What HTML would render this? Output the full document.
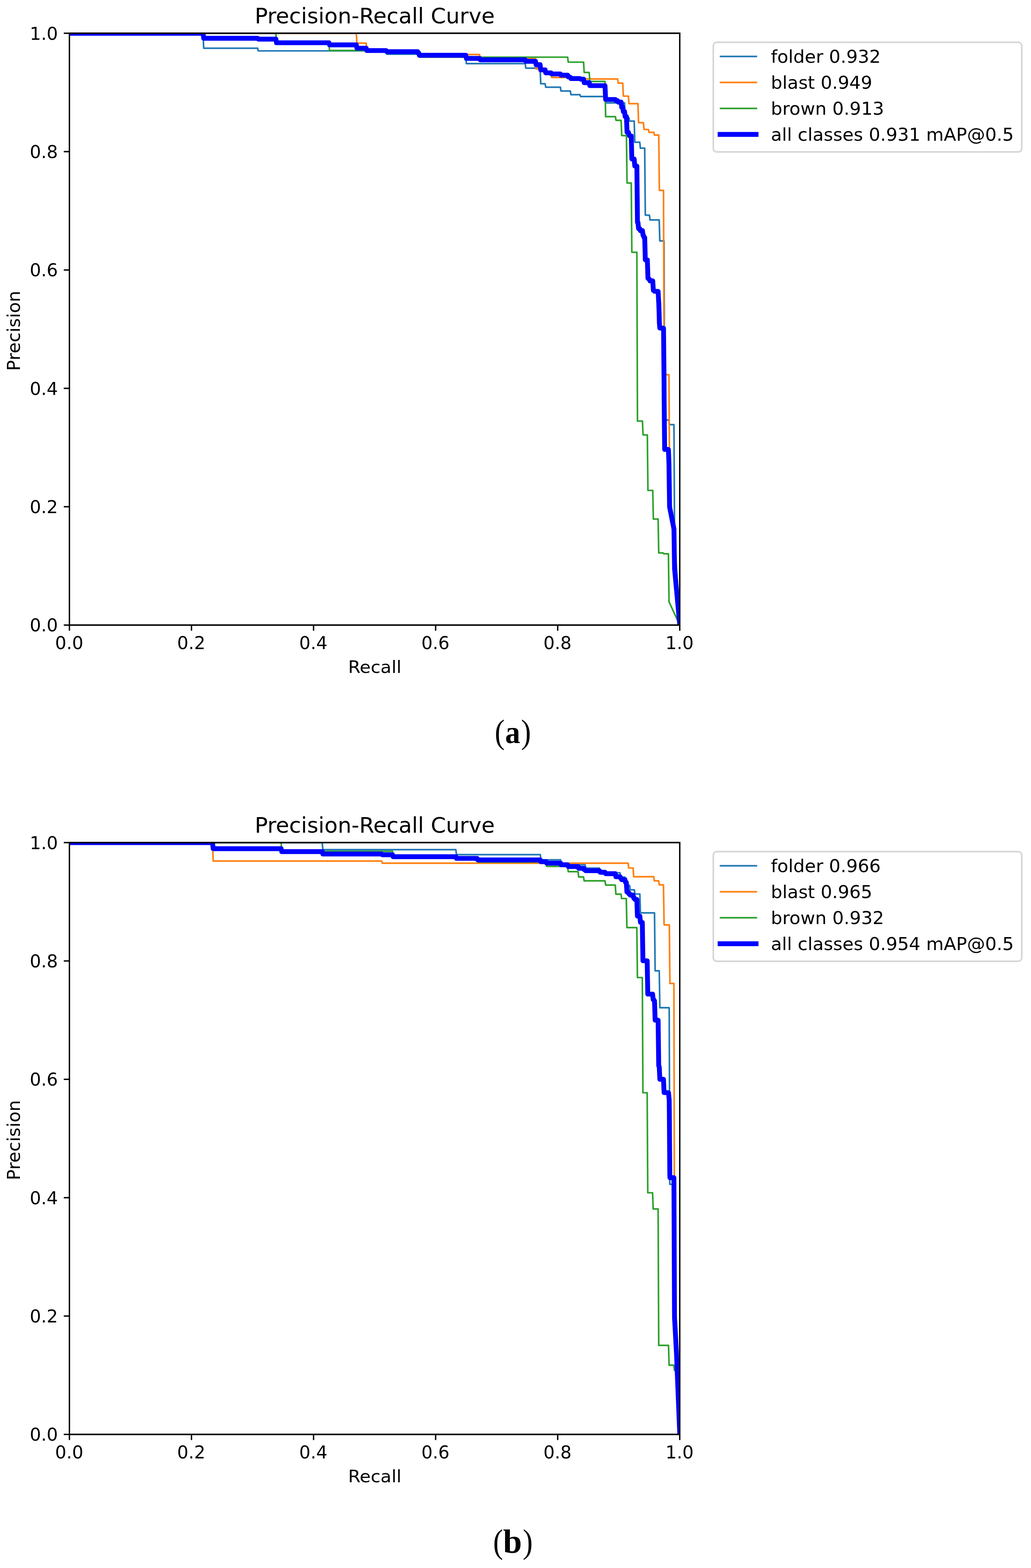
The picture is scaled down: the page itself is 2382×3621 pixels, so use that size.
<!DOCTYPE html>
<html lang="en"><head><meta charset="utf-8"><title>Precision-Recall Curve</title>
<style>html,body,main,figure{margin:0;padding:0;background:#fff}main,figure{display:block}body{width:2382px;height:3621px;overflow:hidden}svg{display:block}svg text{font-family:"DejaVu Sans","Liberation Sans",sans-serif}svg .cap text{font-family:"Liberation Serif","DejaVu Serif",serif}</style>
</head><body>
<main><figure>
<svg role="img" aria-label="Precision-Recall curves: (a) all classes 0.931 mAP@0.5, (b) all classes 0.954 mAP@0.5" width="2382" height="3621" viewBox="0 0 2382 3621">
<rect width="2382" height="3621" fill="#fff"/>
<defs>
<clipPath id="clip1"><rect x="160.4" y="76.8" width="1410.1" height="1366.7"/></clipPath>
<clipPath id="clip2"><rect x="160.4" y="1945.8" width="1410.1" height="1366.7"/></clipPath>
</defs>
<g>
<g clip-path="url(#clip1)" fill="none" stroke-linejoin="round" stroke-linecap="square">
<path d="M160.4 76.8 L469.2 76.8 L470.6 111.4 L595.2 111.4 L596.6 117.5 L892.2 117.5 L893.6 125.1 L1076.1 125.1 L1077.5 146.8 L1213.4 146.8 L1214.8 157.3 L1247.9 157.3 L1249.3 193.4 L1259.4 193.4 L1260.8 201.4 L1294.7 201.4 L1296.1 210.2 L1317.7 210.2 L1319.1 218.6 L1339.9 218.6 L1341.3 222.8 L1397.8 222.8 L1399.2 237.7 L1442.9 237.7 L1444.3 272 L1453.3 272 L1454.7 279.6 L1465.2 279.6 L1466.6 328.4 L1478.1 328.4 L1479.5 342.2 L1489.5 342.2 L1490.9 496.8 L1500.4 496.8 L1501.8 507.9 L1523 507.9 L1524.4 556.4 L1534.2 556.4 L1535.6 969.8 L1545.4 969.8 L1546.8 980.7 L1557.1 980.7 L1558.5 1235 L1570.5 1443.5" stroke="#1f77b4" stroke-width="3.7"/>
<path d="M160.4 76.8 L823.2 76.8 L824.6 99.6 L846 99.6 L847.4 116 L965 116 L966.4 125.9 L1108 125.9 L1109.4 135.3 L1237.2 135.3 L1238.6 158.9 L1259.4 158.9 L1260.8 171.3 L1273.2 171.3 L1274.6 178.9 L1315.6 178.9 L1317 182.3 L1426.9 182.3 L1428.3 192.2 L1438.8 192.2 L1440.2 222 L1451.8 222 L1453.2 239.3 L1473.9 239.3 L1475.3 283.3 L1486.6 283.3 L1488 299 L1498 299 L1499.4 305.6 L1510.7 305.6 L1512.1 311.8 L1522 311.8 L1523.4 439.6 L1533 439.6 L1534.4 865.3 L1545.6 865.3 L1547 1139 L1570.5 1443.5" stroke="#ff7f0e" stroke-width="3.7"/>
<path d="M160.4 76.8 L637.4 76.8 L638.8 102 L760 102 L761.4 116.7 L967.5 116.7 L968.9 132 L1311.5 132 L1312.9 143.5 L1348.3 143.5 L1349.7 167.3 L1361.3 167.3 L1362.7 188.2 L1397.8 188.2 L1399.2 269.3 L1421.8 269.3 L1423.2 277.8 L1435 277.8 L1436.4 313.1 L1447.3 313.1 L1448.7 422.7 L1458.4 422.7 L1459.8 582.6 L1471.4 582.6 L1472.8 972.4 L1484.3 972.4 L1485.7 1004.3 L1495.6 1004.3 L1497 1132.5 L1508.1 1132.5 L1509.5 1198.6 L1520.5 1198.6 L1521.9 1276.8 L1531.8 1276.8 L1533.2 1278.8 L1544.3 1278.8 L1545.7 1389.8 L1570.5 1443.5" stroke="#2ca02c" stroke-width="3.7"/>
<path d="M160.4 76.8 L469.2 76.8 L470.6 88.33 L595.2 88.33 L596.6 90.37 L637.4 90.37 L638.8 98.77 L760 98.77 L761.4 103.67 L823.2 103.67 L824.6 111.27 L846 111.27 L847.4 116.73 L892.2 116.73 L893.6 119.27 L965 119.27 L966.4 122.57 L967.5 122.57 L968.9 127.67 L1076.1 127.67 L1077.5 134.9 L1108 134.9 L1109.4 138.03 L1213.4 138.03 L1214.8 141.53 L1237.2 141.53 L1238.6 149.4 L1247.9 149.4 L1249.3 161.43 L1259.4 161.43 L1260.8 168.23 L1273.2 168.23 L1274.6 170.77 L1294.7 170.77 L1296.1 173.7 L1311.5 173.7 L1312.9 177.53 L1315.6 177.53 L1317 178.67 L1317.7 178.67 L1319.1 181.47 L1339.9 181.47 L1341.3 182.87 L1348.3 182.87 L1349.7 190.8 L1361.3 190.8 L1362.7 197.77 L1397.8 197.77 L1399.2 229.77 L1421.8 229.77 L1423.2 232.6 L1426.9 232.6 L1428.3 235.9 L1435 235.9 L1436.4 247.67 L1438.8 247.67 L1440.2 257.6 L1442.9 257.6 L1444.3 269.03 L1447.3 269.03 L1448.7 305.57 L1451.8 305.57 L1453.2 311.33 L1453.3 311.33 L1454.7 313.87 L1458.4 313.87 L1459.8 367.17 L1465.2 367.17 L1466.6 383.43 L1471.4 383.43 L1472.8 513.37 L1473.9 513.37 L1475.3 528.03 L1478.1 528.03 L1479.5 532.63 L1484.3 532.63 L1485.7 543.27 L1486.6 543.27 L1488 548.5 L1489.5 548.5 L1490.9 600.03 L1495.6 600.03 L1497 642.77 L1498 642.77 L1499.4 644.97 L1500.4 644.97 L1501.8 648.67 L1508.1 648.67 L1509.5 670.7 L1510.7 670.7 L1512.1 672.77 L1520.5 672.77 L1521.9 698.83 L1522 698.83 L1523 729.26 L1523.4 746.05 L1524.4 757.6 L1531.8 757.6 L1533 758.17 L1533.2 778.54 L1534.2 879.9 L1534.4 919.85 L1535.6 1037.97 L1544.3 1037.97 L1545.4 1067.04 L1545.6 1072.84 L1545.7 1082.26 L1546.8 1157.59 L1547 1170.77 L1557.1 1221.68 L1558.5 1313.51 L1570.5 1443.5" stroke="#0000ff" stroke-width="11.2"/>
</g>
<g stroke="#000" stroke-width="3.2" fill="none">
<line x1="160.4" y1="1443.5" x2="160.4" y2="1456.5"/>
<line x1="147.4" y1="1443.5" x2="160.4" y2="1443.5"/>
<line x1="442.42" y1="1443.5" x2="442.42" y2="1456.5"/>
<line x1="147.4" y1="1170.16" x2="160.4" y2="1170.16"/>
<line x1="724.44" y1="1443.5" x2="724.44" y2="1456.5"/>
<line x1="147.4" y1="896.82" x2="160.4" y2="896.82"/>
<line x1="1006.46" y1="1443.5" x2="1006.46" y2="1456.5"/>
<line x1="147.4" y1="623.48" x2="160.4" y2="623.48"/>
<line x1="1288.48" y1="1443.5" x2="1288.48" y2="1456.5"/>
<line x1="147.4" y1="350.14" x2="160.4" y2="350.14"/>
<line x1="1570.5" y1="1443.5" x2="1570.5" y2="1456.5"/>
<line x1="147.4" y1="76.8" x2="160.4" y2="76.8"/>
<path d="M160.4 75.1V1445.2M1570.5 75.1V1445.2"/>
<path d="M160.4 76.8H1570.5M160.4 1443.5H1570.5" stroke-width="3.4"/>
</g>
<g font-size="40.5" fill="#000">
<text transform="translate(159.9 1499) scale(1.012 1)" text-anchor="middle">0.0</text>
<text transform="translate(133.8 1458.3) scale(1.012 1)" text-anchor="end">0.0</text>
<text transform="translate(441.92 1499) scale(1.012 1)" text-anchor="middle">0.2</text>
<text transform="translate(133.8 1184.96) scale(1.012 1)" text-anchor="end">0.2</text>
<text transform="translate(723.94 1499) scale(1.012 1)" text-anchor="middle">0.4</text>
<text transform="translate(133.8 911.62) scale(1.012 1)" text-anchor="end">0.4</text>
<text transform="translate(1005.96 1499) scale(1.012 1)" text-anchor="middle">0.6</text>
<text transform="translate(133.8 638.28) scale(1.012 1)" text-anchor="end">0.6</text>
<text transform="translate(1287.98 1499) scale(1.012 1)" text-anchor="middle">0.8</text>
<text transform="translate(133.8 364.94) scale(1.012 1)" text-anchor="end">0.8</text>
<text transform="translate(1570 1499) scale(1.012 1)" text-anchor="middle">1.0</text>
<text transform="translate(133.8 91.6) scale(1.012 1)" text-anchor="end">1.0</text>
<text transform="translate(865.75 1553.6) scale(1.043 1)" text-anchor="middle" font-size="39.6">Recall</text>
<text transform="translate(46.35 763.95) rotate(-90) scale(1.0355 1)" text-anchor="middle" font-size="40.05">Precision</text>
</g>
<text transform="translate(865.75 54.4) scale(1.0 1)" text-anchor="middle" font-size="50.1">Precision-Recall Curve</text>
<rect x="1648" y="97.7" width="712.6" height="253.1" rx="8" ry="8" fill="#fff" fill-opacity="0.8" stroke="#ccc" stroke-opacity="0.8" stroke-width="3.7"/>
<g font-size="40.5">
<line x1="1662.9" y1="130.3" x2="1749.3" y2="130.3" stroke="#1f77b4" stroke-width="3.7" stroke-linecap="butt"/>
<text transform="translate(1781 145.3) scale(1.03 1)">folder 0.932</text>
<line x1="1662.9" y1="190.3" x2="1749.3" y2="190.3" stroke="#ff7f0e" stroke-width="3.7" stroke-linecap="butt"/>
<text transform="translate(1781 205.3) scale(1.03 1)">blast 0.949</text>
<line x1="1662.9" y1="250.3" x2="1749.3" y2="250.3" stroke="#2ca02c" stroke-width="3.7" stroke-linecap="butt"/>
<text transform="translate(1781 265.3) scale(1.03 1)">brown 0.913</text>
<line x1="1658.1" y1="310.3" x2="1752.4" y2="310.3" stroke="#0000ff" stroke-width="11.2" stroke-linecap="butt"/>
<text transform="translate(1781 325.3) scale(1.03 1)">all classes 0.931 mAP@0.5</text>
</g>
</g>
<g>
<g clip-path="url(#clip2)" fill="none" stroke-linejoin="round" stroke-linecap="square">
<path d="M160.4 1945.8 L744.5 1945.8 L745.9 1962.2 L1053.2 1962.2 L1054.6 1973.6 L1248.3 1973.6 L1249.7 1985.7 L1295.3 1985.7 L1296.7 1997 L1352 1997 L1353.4 2004.8 L1385 2004.8 L1386.4 2015.6 L1432.4 2015.6 L1433.8 2025.7 L1443.8 2025.7 L1445.2 2044.5 L1454.6 2044.5 L1456 2054.8 L1465.6 2054.8 L1467 2064.5 L1478.3 2064.5 L1479.7 2108.2 L1512.2 2108.2 L1513.6 2241.8 L1523.1 2241.8 L1524.5 2327.1 L1546.1 2327.1 L1547.5 2735 L1557 2735 L1558.4 2999 L1570.5 3312.5" stroke="#1f77b4" stroke-width="3.7"/>
<path d="M160.4 1945.8 L491.1 1945.8 L492.5 1988.3 L881.8 1988.3 L883.2 1993.3 L1451.2 1993.3 L1452.6 2004.5 L1462.7 2004.5 L1464.1 2024.6 L1510.3 2024.6 L1511.7 2034.1 L1521.8 2034.1 L1523.2 2043.3 L1532.9 2043.3 L1534.3 2135.9 L1546.4 2135.9 L1547.8 2271.2 L1557 2271.2 L1558.4 2963 L1570.5 3312.5" stroke="#ff7f0e" stroke-width="3.7"/>
<path d="M160.4 1945.8 L649.5 1945.8 L650.9 1966 L906.9 1966 L908.3 1979.8 L1102.3 1979.8 L1103.7 1990.6 L1261.6 1990.6 L1263 2000.7 L1311.4 2000.7 L1312.8 2012.8 L1335.6 2012.8 L1337 2025.2 L1348.2 2025.2 L1349.6 2034.1 L1397.9 2034.1 L1399.3 2043.9 L1421.5 2043.9 L1422.9 2064.8 L1434.8 2064.8 L1436.2 2075 L1447 2075 L1448.4 2142.1 L1471.3 2142.1 L1472.7 2257.5 L1484 2257.5 L1485.4 2523.5 L1495.2 2523.5 L1496.6 2754.5 L1507.7 2754.5 L1509.1 2791.8 L1520.5 2791.8 L1521.9 3106.8 L1544.5 3106.8 L1545.9 3152.7 L1556.9 3152.7 L1558.3 3165 L1563 3165 L1570.5 3312.5" stroke="#2ca02c" stroke-width="3.7"/>
<path d="M160.4 1945.8 L491.1 1945.8 L492.5 1959.97 L649.5 1959.97 L650.9 1966.7 L744.5 1966.7 L745.9 1972.17 L881.8 1972.17 L883.2 1973.83 L906.9 1973.83 L908.3 1978.43 L1053.2 1978.43 L1054.6 1982.23 L1102.3 1982.23 L1103.7 1985.83 L1248.3 1985.83 L1249.7 1989.87 L1261.6 1989.87 L1263 1993.23 L1295.3 1993.23 L1296.7 1997 L1311.4 1997 L1312.8 2001.03 L1335.6 2001.03 L1337 2005.17 L1348.2 2005.17 L1349.6 2008.13 L1352 2008.13 L1353.4 2010.73 L1385 2010.73 L1386.4 2014.33 L1397.9 2014.33 L1399.3 2017.6 L1421.5 2017.6 L1422.9 2024.57 L1432.4 2024.57 L1433.8 2027.93 L1434.8 2027.93 L1436.2 2031.33 L1443.8 2031.33 L1445.2 2037.6 L1447 2037.6 L1448.4 2059.97 L1451.2 2059.97 L1452.6 2063.7 L1454.6 2063.7 L1456 2067.13 L1462.7 2067.13 L1464.1 2073.83 L1465.6 2073.83 L1467 2077.07 L1471.3 2077.07 L1472.7 2115.53 L1478.3 2115.53 L1479.7 2130.1 L1484 2130.1 L1485.4 2218.77 L1495.2 2218.77 L1496.6 2295.77 L1507.7 2295.77 L1509.1 2308.2 L1510.3 2308.2 L1511.7 2311.37 L1512.2 2311.37 L1513.6 2355.9 L1520.5 2355.9 L1521.8 2453.4 L1521.9 2461.12 L1523.1 2463.75 L1523.2 2466 L1524.5 2492.4 L1532.9 2492.4 L1534.3 2523.27 L1544.5 2523.27 L1545.9 2538.57 L1546.1 2538.57 L1546.4 2567.7 L1547.5 2709.97 L1547.8 2719.63 L1556.9 2719.63 L1557 2719.93 L1558.3 3019.58 L1558.4 3042.33 L1563 3126.35 L1570.5 3312.5" stroke="#0000ff" stroke-width="11.2"/>
</g>
<g stroke="#000" stroke-width="3.2" fill="none">
<line x1="160.4" y1="3312.5" x2="160.4" y2="3325.5"/>
<line x1="147.4" y1="3312.5" x2="160.4" y2="3312.5"/>
<line x1="442.42" y1="3312.5" x2="442.42" y2="3325.5"/>
<line x1="147.4" y1="3039.16" x2="160.4" y2="3039.16"/>
<line x1="724.44" y1="3312.5" x2="724.44" y2="3325.5"/>
<line x1="147.4" y1="2765.82" x2="160.4" y2="2765.82"/>
<line x1="1006.46" y1="3312.5" x2="1006.46" y2="3325.5"/>
<line x1="147.4" y1="2492.48" x2="160.4" y2="2492.48"/>
<line x1="1288.48" y1="3312.5" x2="1288.48" y2="3325.5"/>
<line x1="147.4" y1="2219.14" x2="160.4" y2="2219.14"/>
<line x1="1570.5" y1="3312.5" x2="1570.5" y2="3325.5"/>
<line x1="147.4" y1="1945.8" x2="160.4" y2="1945.8"/>
<path d="M160.4 1944.1V3314.2M1570.5 1944.1V3314.2"/>
<path d="M160.4 1945.8H1570.5M160.4 3312.5H1570.5" stroke-width="3.4"/>
</g>
<g font-size="40.5" fill="#000">
<text transform="translate(159.9 3368) scale(1.012 1)" text-anchor="middle">0.0</text>
<text transform="translate(133.8 3327.3) scale(1.012 1)" text-anchor="end">0.0</text>
<text transform="translate(441.92 3368) scale(1.012 1)" text-anchor="middle">0.2</text>
<text transform="translate(133.8 3053.96) scale(1.012 1)" text-anchor="end">0.2</text>
<text transform="translate(723.94 3368) scale(1.012 1)" text-anchor="middle">0.4</text>
<text transform="translate(133.8 2780.62) scale(1.012 1)" text-anchor="end">0.4</text>
<text transform="translate(1005.96 3368) scale(1.012 1)" text-anchor="middle">0.6</text>
<text transform="translate(133.8 2507.28) scale(1.012 1)" text-anchor="end">0.6</text>
<text transform="translate(1287.98 3368) scale(1.012 1)" text-anchor="middle">0.8</text>
<text transform="translate(133.8 2233.94) scale(1.012 1)" text-anchor="end">0.8</text>
<text transform="translate(1570 3368) scale(1.012 1)" text-anchor="middle">1.0</text>
<text transform="translate(133.8 1960.6) scale(1.012 1)" text-anchor="end">1.0</text>
<text transform="translate(865.75 3422.6) scale(1.043 1)" text-anchor="middle" font-size="39.6">Recall</text>
<text transform="translate(46.35 2632.95) rotate(-90) scale(1.0355 1)" text-anchor="middle" font-size="40.05">Precision</text>
</g>
<text transform="translate(865.75 1923.4) scale(1.0 1)" text-anchor="middle" font-size="50.1">Precision-Recall Curve</text>
<rect x="1648" y="1966.7" width="712.6" height="253.1" rx="8" ry="8" fill="#fff" fill-opacity="0.8" stroke="#ccc" stroke-opacity="0.8" stroke-width="3.7"/>
<g font-size="40.5">
<line x1="1662.9" y1="1999.3" x2="1749.3" y2="1999.3" stroke="#1f77b4" stroke-width="3.7" stroke-linecap="butt"/>
<text transform="translate(1781 2014.3) scale(1.03 1)">folder 0.966</text>
<line x1="1662.9" y1="2059.3" x2="1749.3" y2="2059.3" stroke="#ff7f0e" stroke-width="3.7" stroke-linecap="butt"/>
<text transform="translate(1781 2074.3) scale(1.03 1)">blast 0.965</text>
<line x1="1662.9" y1="2119.3" x2="1749.3" y2="2119.3" stroke="#2ca02c" stroke-width="3.7" stroke-linecap="butt"/>
<text transform="translate(1781 2134.3) scale(1.03 1)">brown 0.932</text>
<line x1="1658.1" y1="2179.3" x2="1752.4" y2="2179.3" stroke="#0000ff" stroke-width="11.2" stroke-linecap="butt"/>
<text transform="translate(1781 2194.3) scale(1.03 1)">all classes 0.954 mAP@0.5</text>
</g>
</g>
<g class="cap"><text><tspan x="1143.1" y="1715.7" font-size="77.8" font-weight="normal" textLength="23.06" lengthAdjust="spacingAndGlyphs">(</tspan><tspan x="1166.9" y="1716.2" font-size="75" font-weight="bold" textLength="34.88" lengthAdjust="spacingAndGlyphs">a</tspan><tspan x="1203.8" y="1715.7" font-size="77.8" font-weight="normal" textLength="23.06" lengthAdjust="spacingAndGlyphs">)</tspan></text></g>
<g class="cap"><text><tspan x="1139.3" y="3585.5" font-size="77.8" font-weight="normal" textLength="23.06" lengthAdjust="spacingAndGlyphs">(</tspan><tspan x="1162.2" y="3586.2" font-size="78.4" font-weight="bold" textLength="43.59" lengthAdjust="spacingAndGlyphs">b</tspan><tspan x="1207.8" y="3585.5" font-size="77.8" font-weight="normal" textLength="23.06" lengthAdjust="spacingAndGlyphs">)</tspan></text></g>
</svg>
</figure></main>
</body></html>
